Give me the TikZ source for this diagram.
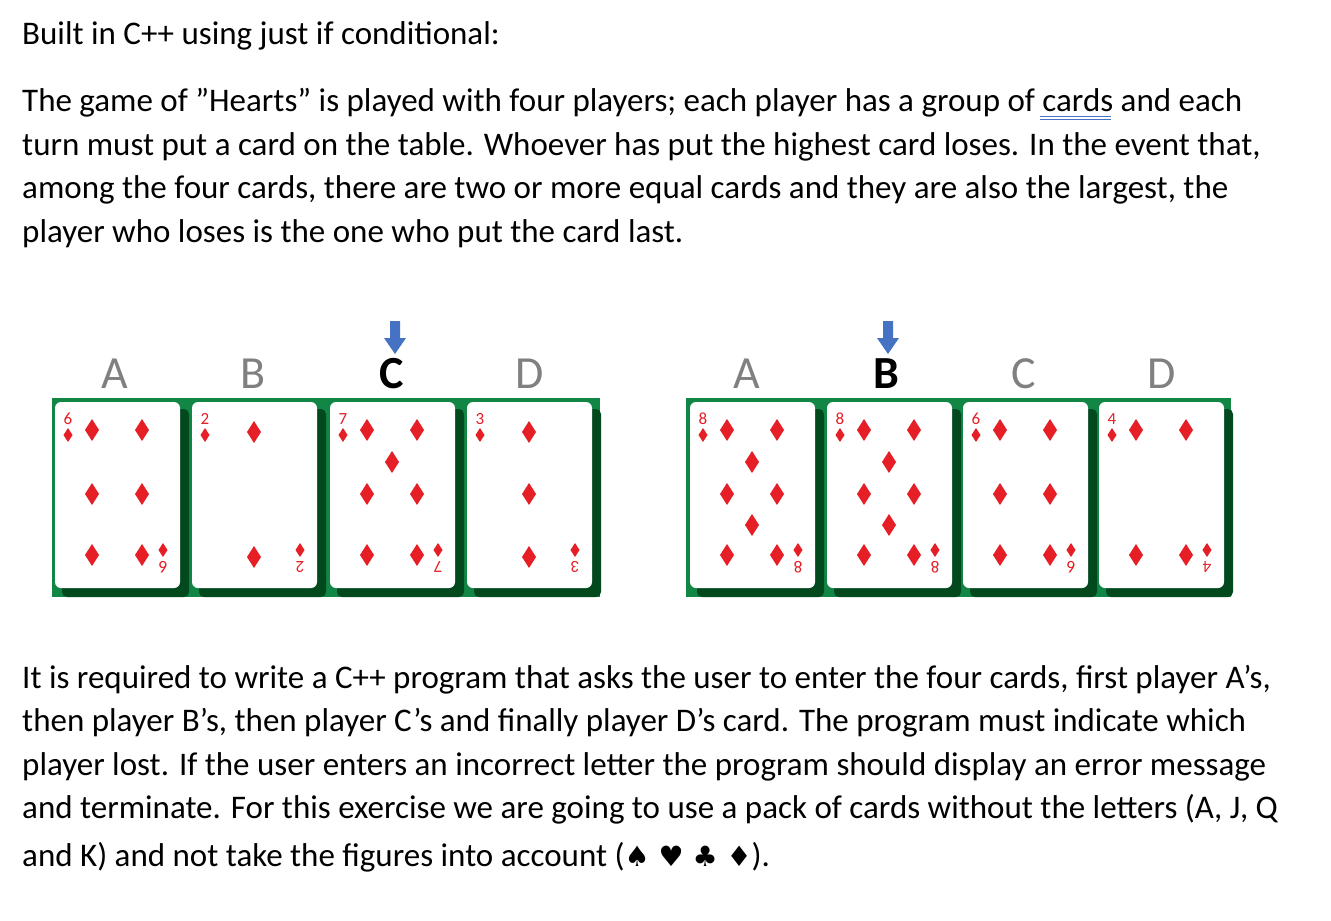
\documentclass[tikz,border=0pt]{standalone}
\usepackage{fontspec}
\setmainfont{Carlito}
\newfontfamily\symf{DejaVu Sans}
\newcommand\sq{\symbol{39}}
\newcommand\dq{\symbol{34}}
\definecolor{cardred}{RGB}{230,30,38}
\definecolor{felt}{RGB}{18,134,68}
\definecolor{feltdark}{RGB}{2,74,30}
\definecolor{lblgray}{RGB}{128,128,128}
\definecolor{arrowblue}{RGB}{70,114,196}
\newcommand\dpip[2]{\fill[cardred,shift={(#1,#2)}] (0,-11)--(7,0)--(0,11)--(-7,0)--cycle;}
\newcommand\spip[2]{\fill[cardred,shift={(#1,#2)}] (0,-7)--(4.5,0)--(0,7)--(-4.5,0)--cycle;}
\newcommand\playcard[3]{%
 \begin{scope}[shift={(#1,0)}]
 \fill[feltdark,rounded corners=5] (7,409) rectangle (134,597);
 \fill[white,rounded corners=6] (0,402) rectangle (125,588);
 \node[idx] at (13,419) {#2};
 \spip{13}{435}
 \spip{108}{550}
 \node[idx,rotate=180] at (108,567) {#2};
 \foreach \px/\py in {#3} {\dpip{\px}{\py}}
 \end{scope}}
\newcommand\bluearrow[1]{\fill[arrowblue] (#1-5,321) -- (#1+5,321) -- (#1+5,338) -- (#1+11,338) -- (#1,354) -- (#1-11,338) -- (#1-5,338) -- cycle;}
\tikzset{
 txt/.style={anchor=base west,inner sep=0pt,font=\fontsize{33}{38}\selectfont},
 idx/.style={text=cardred,inner sep=0pt,font=\fontsize{17}{18}\selectfont},
 lbl/.style={text=lblgray,inner sep=0pt,anchor=base,font=\fontsize{46}{50}\selectfont},
 lblb/.style={text=black,inner sep=0pt,anchor=base,font=\fontsize{46}{50}\selectfont\bfseries}
}
\begin{document}
\begin{tikzpicture}[x=1pt,y=-1pt]
\useasboundingbox[fill=white] (0,0) rectangle (1331,921);
\node[txt] (t0) at (22,44) {Built in C++ using just if conditional:};
\node[txt] (t1) at (22,111) {The game of \dq Hearts\dq{} is played with four players; each player has a group of cards and each};
\node[txt] (t2) at (22,155) {turn must put a card on the table. Whoever has put the highest card loses. In the event that,};
\node[txt] (t3) at (22,198) {among the four cards, there are two or more equal cards and they are also the largest, the};
\node[txt] (t4) at (22,242) {player who loses is the one who put the card last.};
\draw[arrowblue,line width=0.8] (1040,116) -- (1111,116) (1040,119.5) -- (1111,119.5);
% left group
\fill[felt] (52,398) rectangle (600,597);
\playcard{55}{6}{37/430,87/430,37/494,87/494,37/555,87/555}
\playcard{192}{2}{62/432,62/557}
\playcard{330}{7}{37/430,87/430,62/462,37/494,87/494,37/555,87/555}
\playcard{467}{3}{62/432,62/494,62/557}
\node[lbl] (la) at (115,388) {A};
\node[lbl] (lb) at (253,388) {B};
\node[lblb] (lc) at (392,388) {C};
\node[lbl] (ld) at (530,388) {D};
\bluearrow{395}
% right group
\fill[felt] (686,398) rectangle (1231,597);
\playcard{690}{8}{37/430,87/430,62/462,37/494,87/494,62/525,37/555,87/555}
\playcard{827}{8}{37/430,87/430,62/462,37/494,87/494,62/525,37/555,87/555}
\playcard{963}{6}{37/430,87/430,37/494,87/494,37/555,87/555}
\playcard{1099}{4}{37/430,87/430,37/555,87/555}
\node[lbl] (ra) at (747,388) {A};
\node[lblb] (rb) at (886,388) {B};
\node[lbl] (rc) at (1024,388) {C};
\node[lbl] (rd) at (1162,388) {D};
\bluearrow{888}
% bottom text
\node[txt] (b1) at (22,688) {It is required to write a C++ program that asks the user to enter the four cards, first player A\sq s,};
\node[txt] (b2) at (22,731) {then player B\sq s, then player C\sq s and finally player D\sq s card. The program must indicate which};
\node[txt] (b3) at (22,775) {player lost. If the user enters an incorrect letter the program should display an error message};
\node[txt] (b4) at (22,818) {and terminate. For this exercise we are going to use a pack of cards without the letters (A, J, Q};
\node[txt] (b5) at (22,866) {and K) and not take the figures into account ({\symf\fontsize{28}{30}\selectfont ♠ ♥ ♣ ♦}).};
\end{tikzpicture}
\end{document}
